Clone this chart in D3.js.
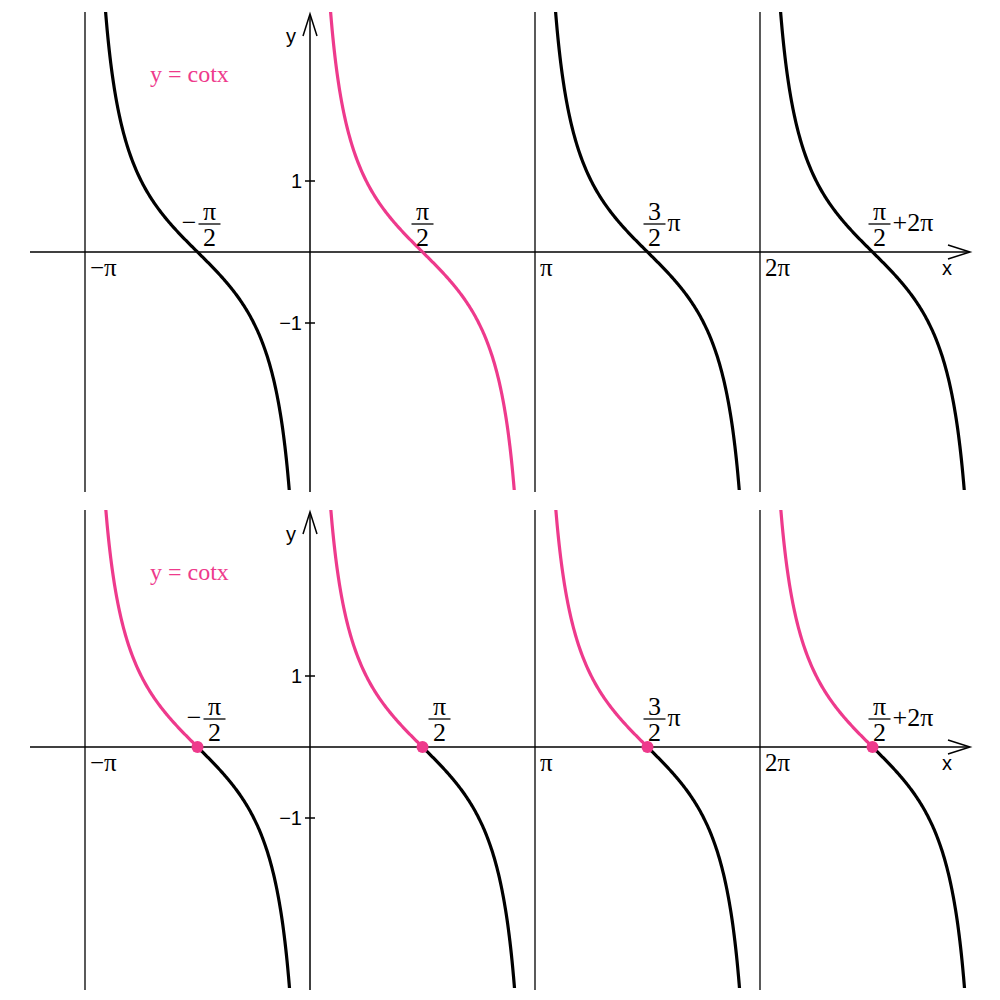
<!DOCTYPE html>
<html><head><meta charset="utf-8">
<script src="https://cdn.jsdelivr.net/npm/d3@7"></script>
<style>body{margin:0;background:#fff}</style>
</head><body>
<svg id="chart" width="1000" height="1000"></svg>
<script>
var PINK = '#ee3a8c';
// branch k covers (k*pi, (k+1)*pi)
var branches = [-1, 0, 1, 2];
var gridLines = [-1, 1, 2];           // vertical lines at multiples of pi
var xTickLabels = [{v: -1, t: '\u2212\u03c0'}, {v: 1, t: '\u03c0'}, {v: 2, t: '2\u03c0'}];
var yTicks = [{v: 1, t: '1'}, {v: -1, t: '\u22121'}];
var zeroLabels = [
    {k: -1, num: '\u03c0', pre: '\u2212', post: ''},
    {k: 0, num: '\u03c0', pre: '', post: ''},
    {k: 1, num: '3', pre: '', post: '\u03c0'},
    {k: 2, num: '\u03c0', pre: '', post: '+2\u03c0'}
];
var panels = [
    {axisY: 252, top: 12, bottom: 490, pinkBranches: [0], pinkUpper: false, dots: false, fracDx: [12, 0, 7, 7]},
    {axisY: 747, top: 510, bottom: 988, pinkBranches: [], pinkUpper: true, dots: true, fracDx: [17, 17, 7, 7]}
];

var svg = d3.select('#chart');
var x = d3.scaleLinear().domain([-Math.PI, 0]).range([85, 310]);
var SERIF = 'Liberation Serif, DejaVu Serif, serif';

panels.forEach(function (p) {
    var y = d3.scaleLinear().domain([0, 1]).range([p.axisY, p.axisY - 71]);
    var g = svg.append('g');
    var clip = 'clip' + p.axisY;
    g.append('clipPath').attr('id', clip).append('rect')
        .attr('x', 0).attr('y', p.top).attr('width', 1000).attr('height', p.bottom - p.top);

    gridLines.forEach(function (k) {
        g.append('line').attr('x1', x(k * Math.PI)).attr('x2', x(k * Math.PI))
            .attr('y1', p.top).attr('y2', p.bottom + 2).attr('stroke', '#000').attr('stroke-width', 1.3);
    });
    // axes
    g.append('line').attr('x1', 30).attr('x2', 968).attr('y1', p.axisY).attr('y2', p.axisY)
        .attr('stroke', '#000').attr('stroke-width', 1.5);
    g.append('path').attr('d', 'M948,' + (p.axisY - 7) + 'L970,' + p.axisY + 'L948,' + (p.axisY + 7))
        .attr('fill', 'none').attr('stroke', '#000').attr('stroke-width', 1.5);
    g.append('line').attr('x1', x(0)).attr('x2', x(0)).attr('y1', p.top + 4).attr('y2', p.bottom + 2)
        .attr('stroke', '#000').attr('stroke-width', 1.5);
    g.append('path').attr('d', 'M' + (x(0) - 7) + ',' + (p.top + 24) + 'L' + x(0) + ',' + (p.top + 2) + 'L' + (x(0) + 7) + ',' + (p.top + 24))
        .attr('fill', 'none').attr('stroke', '#000').attr('stroke-width', 1.5);
    g.append('text').attr('x', 942).attr('y', p.axisY + 23).attr('font-family', 'Liberation Sans').attr('font-size', 20).text('x');
    g.append('text').attr('x', 286).attr('y', p.top + 31).attr('font-family', 'Liberation Sans').attr('font-size', 20).text('y');

    yTicks.forEach(function (t) {
        g.append('line').attr('x1', x(0) - 5).attr('x2', x(0) + 5).attr('y1', y(t.v)).attr('y2', y(t.v)).attr('stroke', '#000').attr('stroke-width', 1.5);
        g.append('text').attr('x', x(0) - 8).attr('y', y(t.v) + 7).attr('text-anchor', 'end')
            .attr('font-family', 'Liberation Sans').attr('font-size', 20).text(t.t);
    });
    xTickLabels.forEach(function (t) {
        g.append('text').attr('x', x(t.v * Math.PI) + 5).attr('y', p.axisY + 24)
            .attr('font-family', SERIF).attr('font-size', 25).text(t.t);
    });

    // curves
    var line = d3.line().x(function (d) { return x(d); }).y(function (d) { return y(1 / Math.tan(d)); });
    branches.forEach(function (k) {
        var a = k * Math.PI, mid = a + Math.PI / 2, b = (k + 1) * Math.PI;
        var upper = d3.range(a + 0.2, mid + 0.0001, 0.01);
        var lower = d3.range(mid, b - 0.2, 0.01);
        var pinkAll = p.pinkBranches.indexOf(k) >= 0;
        g.append('path').datum(upper).attr('d', line).attr('clip-path', 'url(#' + clip + ')')
            .attr('fill', 'none').attr('stroke', (pinkAll || p.pinkUpper) ? PINK : '#000').attr('stroke-width', 3.2);
        g.append('path').datum(lower).attr('d', line).attr('clip-path', 'url(#' + clip + ')')
            .attr('fill', 'none').attr('stroke', pinkAll ? PINK : '#000').attr('stroke-width', 3.2);
        if (p.dots) {
            g.append('circle').attr('cx', x(mid)).attr('cy', p.axisY).attr('r', 6).attr('fill', PINK);
        }
    });

    // zero labels as fractions
    zeroLabels.forEach(function (z, i) {
        var cx = x(z.k * Math.PI + Math.PI / 2) + p.fracDx[i];
        var fy = p.axisY - 29;
        var f = g.append('g').attr('font-family', SERIF).attr('font-size', 26);
        f.append('text').attr('x', cx).attr('y', fy - 3).attr('text-anchor', 'middle').text(z.num);
        f.append('line').attr('x1', cx - 11).attr('x2', cx + 11).attr('y1', fy + 1).attr('y2', fy + 1).attr('stroke', '#000').attr('stroke-width', 1.3);
        f.append('text').attr('x', cx).attr('y', fy + 23).attr('text-anchor', 'middle').text('2');
        if (z.pre) f.append('text').attr('x', cx - 13).attr('y', fy + 8).attr('text-anchor', 'end').text(z.pre);
        if (z.post) f.append('text').attr('x', cx + 13).attr('y', fy + 8).text(z.post);
    });

    g.append('text').attr('x', 150).attr('y', p.top + 70).attr('fill', PINK)
        .attr('font-family', SERIF).attr('font-size', 24).text('y = cotx');
});
</script>
</body></html>
